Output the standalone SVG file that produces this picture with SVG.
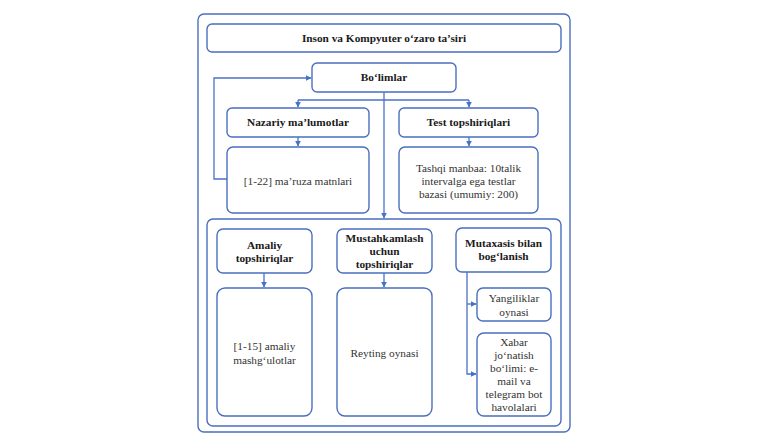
<svg xmlns="http://www.w3.org/2000/svg" width="768" height="433" viewBox="0 0 768 433">
<defs>
<marker id="ah" viewBox="0 0 10 10" refX="9" refY="5" markerWidth="6" markerHeight="6" markerUnits="userSpaceOnUse" orient="auto">
<path d="M0,0 L10,5 L0,10 z" fill="#4472c4"/>
</marker>
<style>
.box{fill:#fff;stroke:#4a6fbf;stroke-width:1.4}
.con{fill:none;stroke:#4a72c6;stroke-width:1.3}
.b{font-family:"Liberation Serif","Times New Roman",serif;font-weight:bold;font-size:11.3px;fill:#1a1a1a;text-anchor:middle}
.t{font-family:"Liberation Serif","Times New Roman",serif;font-size:11.3px;fill:#333;text-anchor:middle}
</style>
</defs>
<rect width="768" height="433" fill="#fff"/>
<rect x="198" y="14" width="372" height="418" rx="6" class="box"/>
<g id="title"><rect x="207" y="24" width="354" height="28" rx="5" class="box"/><text x="384" y="42" class="b">Inson va Kompyuter o‘zaro ta’siri</text></g>
<g id="bolimlar"><rect x="312" y="63" width="144" height="29" rx="5" class="box"/><text x="384" y="81" class="b">Bo‘limlar</text></g>
<g id="nazariy"><rect x="227" y="108" width="142" height="29" rx="5" class="box"/><text x="298" y="126" class="b">Nazariy ma’lumotlar</text></g>
<g id="test"><rect x="399" y="108" width="139" height="29" rx="5" class="box"/><text x="468.5" y="126" class="b">Test topshiriqlari</text></g>
<g id="maruza"><rect x="227" y="147" width="142" height="66" rx="6" class="box"/><text x="298" y="185" class="t">[1-22] ma’ruza matnlari</text></g>
<g id="testbaza"><rect x="399" y="147" width="139" height="66" rx="6" class="box"/><text x="468.5" y="172" class="t">Tashqi manbaa: 10talik</text><text x="468.5" y="185" class="t">intervalga ega testlar</text><text x="468.5" y="198" class="t">bazasi (umumiy: 200)</text></g>
<g id="inner"><rect x="207" y="219" width="354" height="207" rx="6" class="box"/></g>
<g id="amaliy"><rect x="217" y="229" width="95" height="44" rx="6" class="box"/><text x="264.5" y="249" class="b">Amaliy</text><text x="264.5" y="262" class="b">topshiriqlar</text></g>
<g id="mustahkam"><rect x="337" y="229" width="95" height="44" rx="6" class="box"/><text x="384.5" y="242" class="b">Mustahkamlash</text><text x="384.5" y="255" class="b">uchun</text><text x="384.5" y="268" class="b">topshiriqlar</text></g>
<g id="mutaxasis"><rect x="456" y="228" width="95" height="44" rx="6" class="box"/><text x="503.5" y="247" class="b">Mutaxasis bilan</text><text x="503.5" y="260" class="b">bog‘lanish</text></g>
<g id="mashgulot"><rect x="217" y="288" width="95" height="128" rx="8" class="box"/><text x="264.5" y="350" class="t">[1-15] amaliy</text><text x="264.5" y="364" class="t">mashg‘ulotlar</text></g>
<g id="reyting"><rect x="337" y="288" width="95" height="128" rx="8" class="box"/><text x="384.5" y="357" class="t">Reyting oynasi</text></g>
<g id="yangilik"><rect x="477" y="288" width="74" height="33" rx="6" class="box"/><text x="514" y="302" class="t">Yangiliklar</text><text x="514" y="316" class="t">oynasi</text></g>
<g id="xabar"><rect x="477" y="333" width="74" height="83" rx="7" class="box"/><text x="514" y="346" class="t">Xabar</text><text x="514" y="359" class="t">jo‘natish</text><text x="514" y="372" class="t">bo‘limi: e-</text><text x="514" y="385" class="t">mail va</text><text x="514" y="398" class="t">telegram bot</text><text x="514" y="411" class="t">havolalari</text></g>
<g id="connectors">
<path class="con" d="M384,92 V218" marker-end="url(#ah)"/>
<path class="con" d="M298,100 H469"/>
<path class="con" d="M298,100 V107" marker-end="url(#ah)"/>
<path class="con" d="M469,100 V107" marker-end="url(#ah)"/>
<path class="con" d="M227,179 H214 V78 H311" marker-end="url(#ah)"/>
<path class="con" d="M298,137 V146" marker-end="url(#ah)"/>
<path class="con" d="M469,137 V146" marker-end="url(#ah)"/>
<path class="con" d="M264,273 V287" marker-end="url(#ah)"/>
<path class="con" d="M384,273 V287" marker-end="url(#ah)"/>
<path class="con" d="M467,272 V374 H476" marker-end="url(#ah)"/>
<path class="con" d="M467,304 H476" marker-end="url(#ah)"/>
</g>
</svg>
